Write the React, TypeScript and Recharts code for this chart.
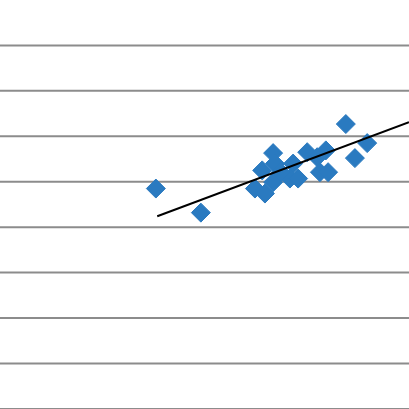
import { ScatterChart, Scatter, XAxis, YAxis, CartesianGrid } from 'recharts';

/* ── Data ─────────────────────────────────────────────── */
const xValues = [3.43, 4.42, 7.61, 8.08, 7.81, 6.01, 6.76, 7.17, 6.98, 5.77, 6.05, 6.45, 6.38, 6.56, 7.04, 7.22, 5.61, 5.83, 6.01, 6.18];
const yValues = [4.85, 4.32, 6.27, 5.85, 5.52, 5.63, 5.65, 5.69, 5.54, 5.25, 5.40, 5.40, 5.07, 5.07, 5.21, 5.21, 4.85, 4.74, 4.99, 5.21];
const trendX = [3.46, 9.0];
const trendY = [4.24, 6.31];
const yTicks = [0, 1, 2, 3, 4, 5, 6, 7, 8];

const points = xValues.map((x, i) => ({ x, y: yValues[i] }));
const trend = trendX.map((x, i) => ({ x, y: trendY[i] }));

const BLUE = '#2A7AC0';

function Diamond(props: any) {
  const { cx, cy } = props;
  const r = 9.5;
  return (
    <polygon
      points={`${cx},${cy - r} ${cx + r},${cy} ${cx},${cy + r} ${cx - r},${cy}`}
      fill={BLUE}
      stroke={BLUE}
      strokeWidth={1}
      strokeLinejoin="round"
    />
  );
}

export default function App() {
  return (
    <div style={{ position: 'absolute', left: 0, top: 0, width: 409, height: 409, overflow: 'hidden', background: '#fff' }}>
      <ScatterChart width={409} height={418} margin={{ top: 0, right: 0, bottom: 0, left: 0 }}>
        <CartesianGrid vertical={false} syncWithTicks stroke="#8c8c8c" strokeWidth={2} />
        <XAxis type="number" dataKey="x" domain={[0, 9]} hide />
        <YAxis type="number" dataKey="y" domain={[-0.2, 9]} ticks={yTicks} interval={0} hide />
        <Scatter data={points} shape={<Diamond />} isAnimationActive={false} />
        <Scatter
          data={trend}
          line={{ stroke: '#000', strokeWidth: 2 }}
          shape={() => <g />}
          isAnimationActive={false}
        />
      </ScatterChart>
    </div>
  );
}
